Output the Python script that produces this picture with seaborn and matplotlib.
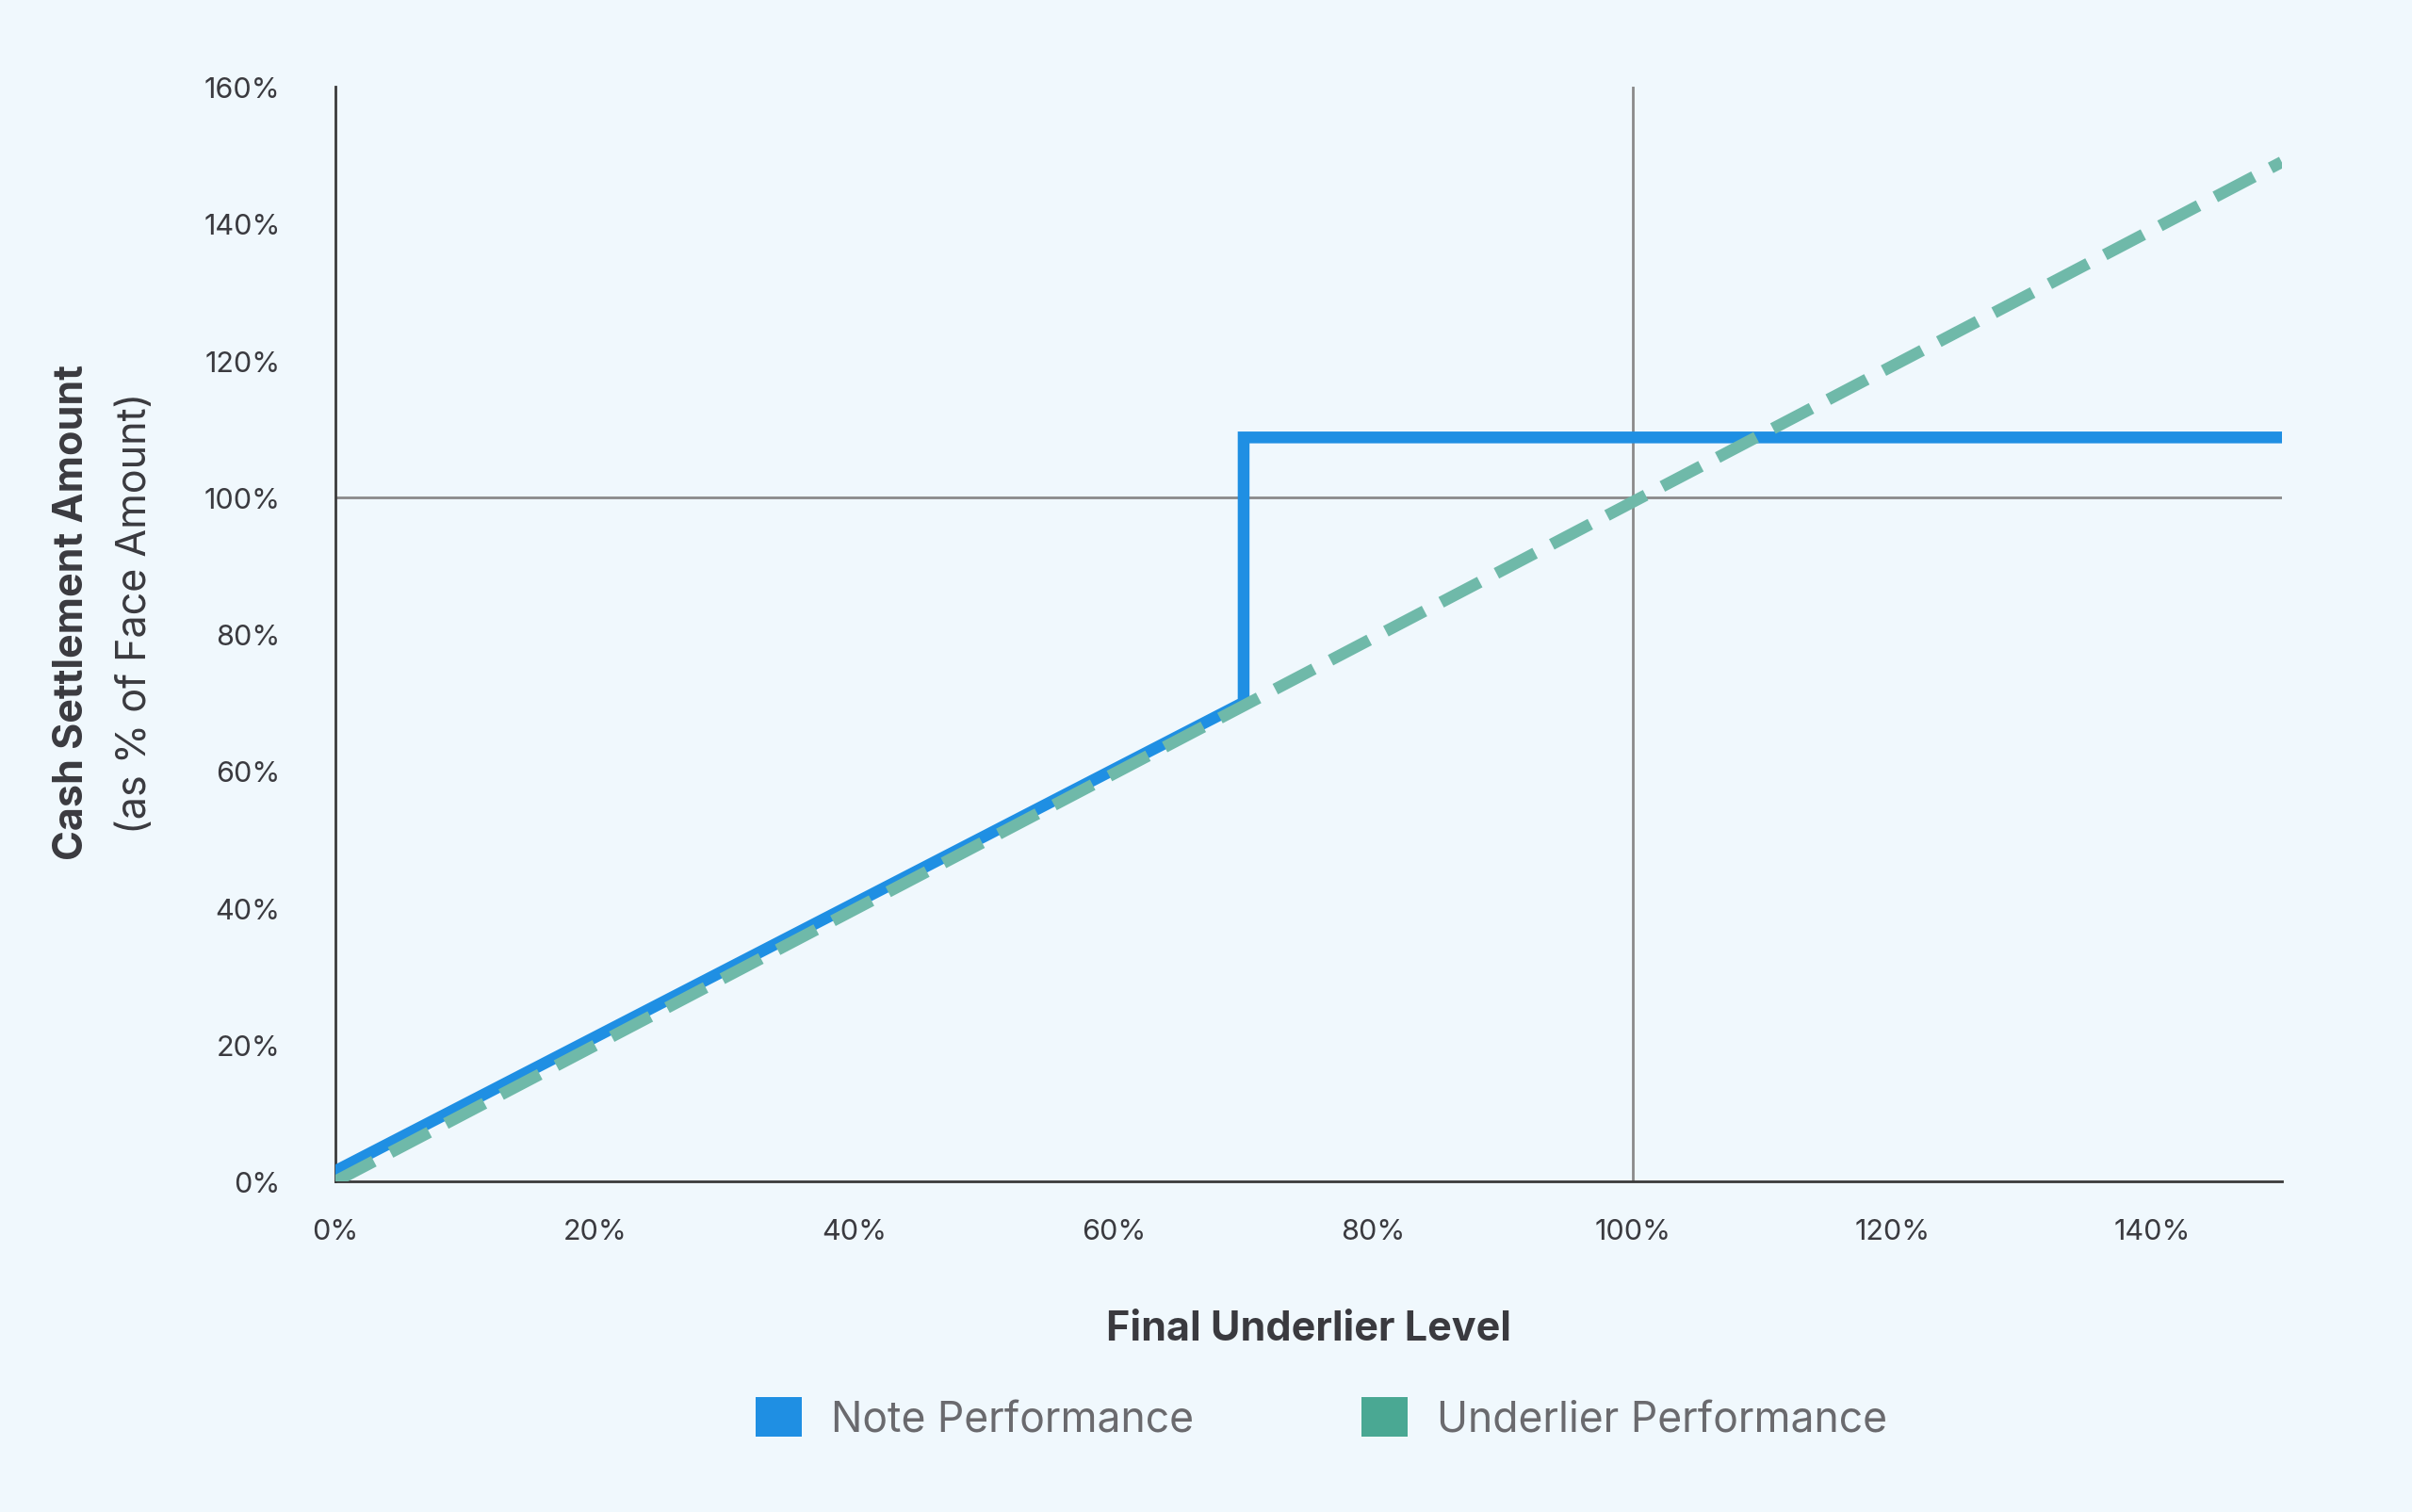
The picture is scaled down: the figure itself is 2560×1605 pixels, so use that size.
import matplotlib
matplotlib.use("Agg")
import matplotlib.pyplot as plt
import seaborn as sns
import pandas as pd
from matplotlib.patches import Patch

# chart values (percent)
note_x = [0, 70, 70, 150]
note_y = [1.5, 70, 108.75, 108.75]
under_x = [0, 150]
under_y = [0, 149]
x_ticks = [0, 20, 40, 60, 80, 100, 120, 140]
y_ticks = [0, 20, 40, 60, 80, 100, 120, 140, 160]

bg = "#f0f8fd"
note_color = "#1f8fe3"
under_color = "#6fb9a9"
text_color = "#3a3a3f"

sns.set_theme(style="white")
plt.rcParams['font.family'] = ['Inter', 'DejaVu Sans']

fig = plt.figure(figsize=(25.6, 16.06), dpi=100, facecolor=bg)
ax = fig.add_axes([0.139, 0.2185, 0.807, 0.7235])
ax.set_facecolor(bg)

ax.axhline(100, color="#8a8a8a", lw=2, zorder=1)
ax.axvline(100, color="#8a8a8a", lw=2, zorder=1)

note_df = pd.DataFrame({"x": note_x, "y": note_y})
under_df = pd.DataFrame({"x": under_x, "y": under_y})
sns.lineplot(data=note_df, x="x", y="y", sort=False, estimator=None, ax=ax,
             color=note_color, lw=9, zorder=3, solid_joinstyle="miter")
sns.lineplot(data=under_df, x="x", y="y", estimator=None, ax=ax, color=under_color,
             lw=9, zorder=4, dashes=(3.2, 2.2), linestyle="--")

ax.set_xlim(0, 150)
ax.set_ylim(0, 160)
ax.set_xticks(x_ticks)
ax.set_yticks(y_ticks)
ax.set_xticklabels([f"{v}%" for v in x_ticks])
ax.set_yticklabels([f"{v}%" for v in y_ticks])
ax.tick_params(axis="both", length=0, labelsize=22, colors=text_color)
ax.tick_params(axis="x", pad=28)
ax.tick_params(axis="y", pad=42)

for s in ["top", "right"]:
    ax.spines[s].set_visible(False)
for s in ["left", "bottom"]:
    ax.spines[s].set_color("#3a3a3a")
    ax.spines[s].set_linewidth(2)

ax.set_xlabel("Final Underlier Level", fontsize=31, fontweight="bold",
              color=text_color, labelpad=50)
ax.set_ylabel("")
fig.text(0.030, 0.595, "Cash Settlement Amount", rotation=90, fontsize=31,
         fontweight="bold", color=text_color, ha="center", va="center")
fig.text(0.056, 0.595, "(as % of Face Amount)", rotation=90, fontsize=31,
         color=text_color, ha="center", va="center")

handles = [Patch(facecolor=note_color, edgecolor="none", label="Note Performance"),
           Patch(facecolor="#4aa893", edgecolor="none", label="Underlier Performance")]
fig.legend(handles=handles, loc="center", bbox_to_anchor=(0.548, 0.062), ncol=2,
           frameon=False, fontsize=32, labelcolor="#6a6a6e", handlelength=1.1,
           handleheight=1.1, handletextpad=0.7, columnspacing=4.0)

fig.savefig("out.png", dpi=100, facecolor=bg)
